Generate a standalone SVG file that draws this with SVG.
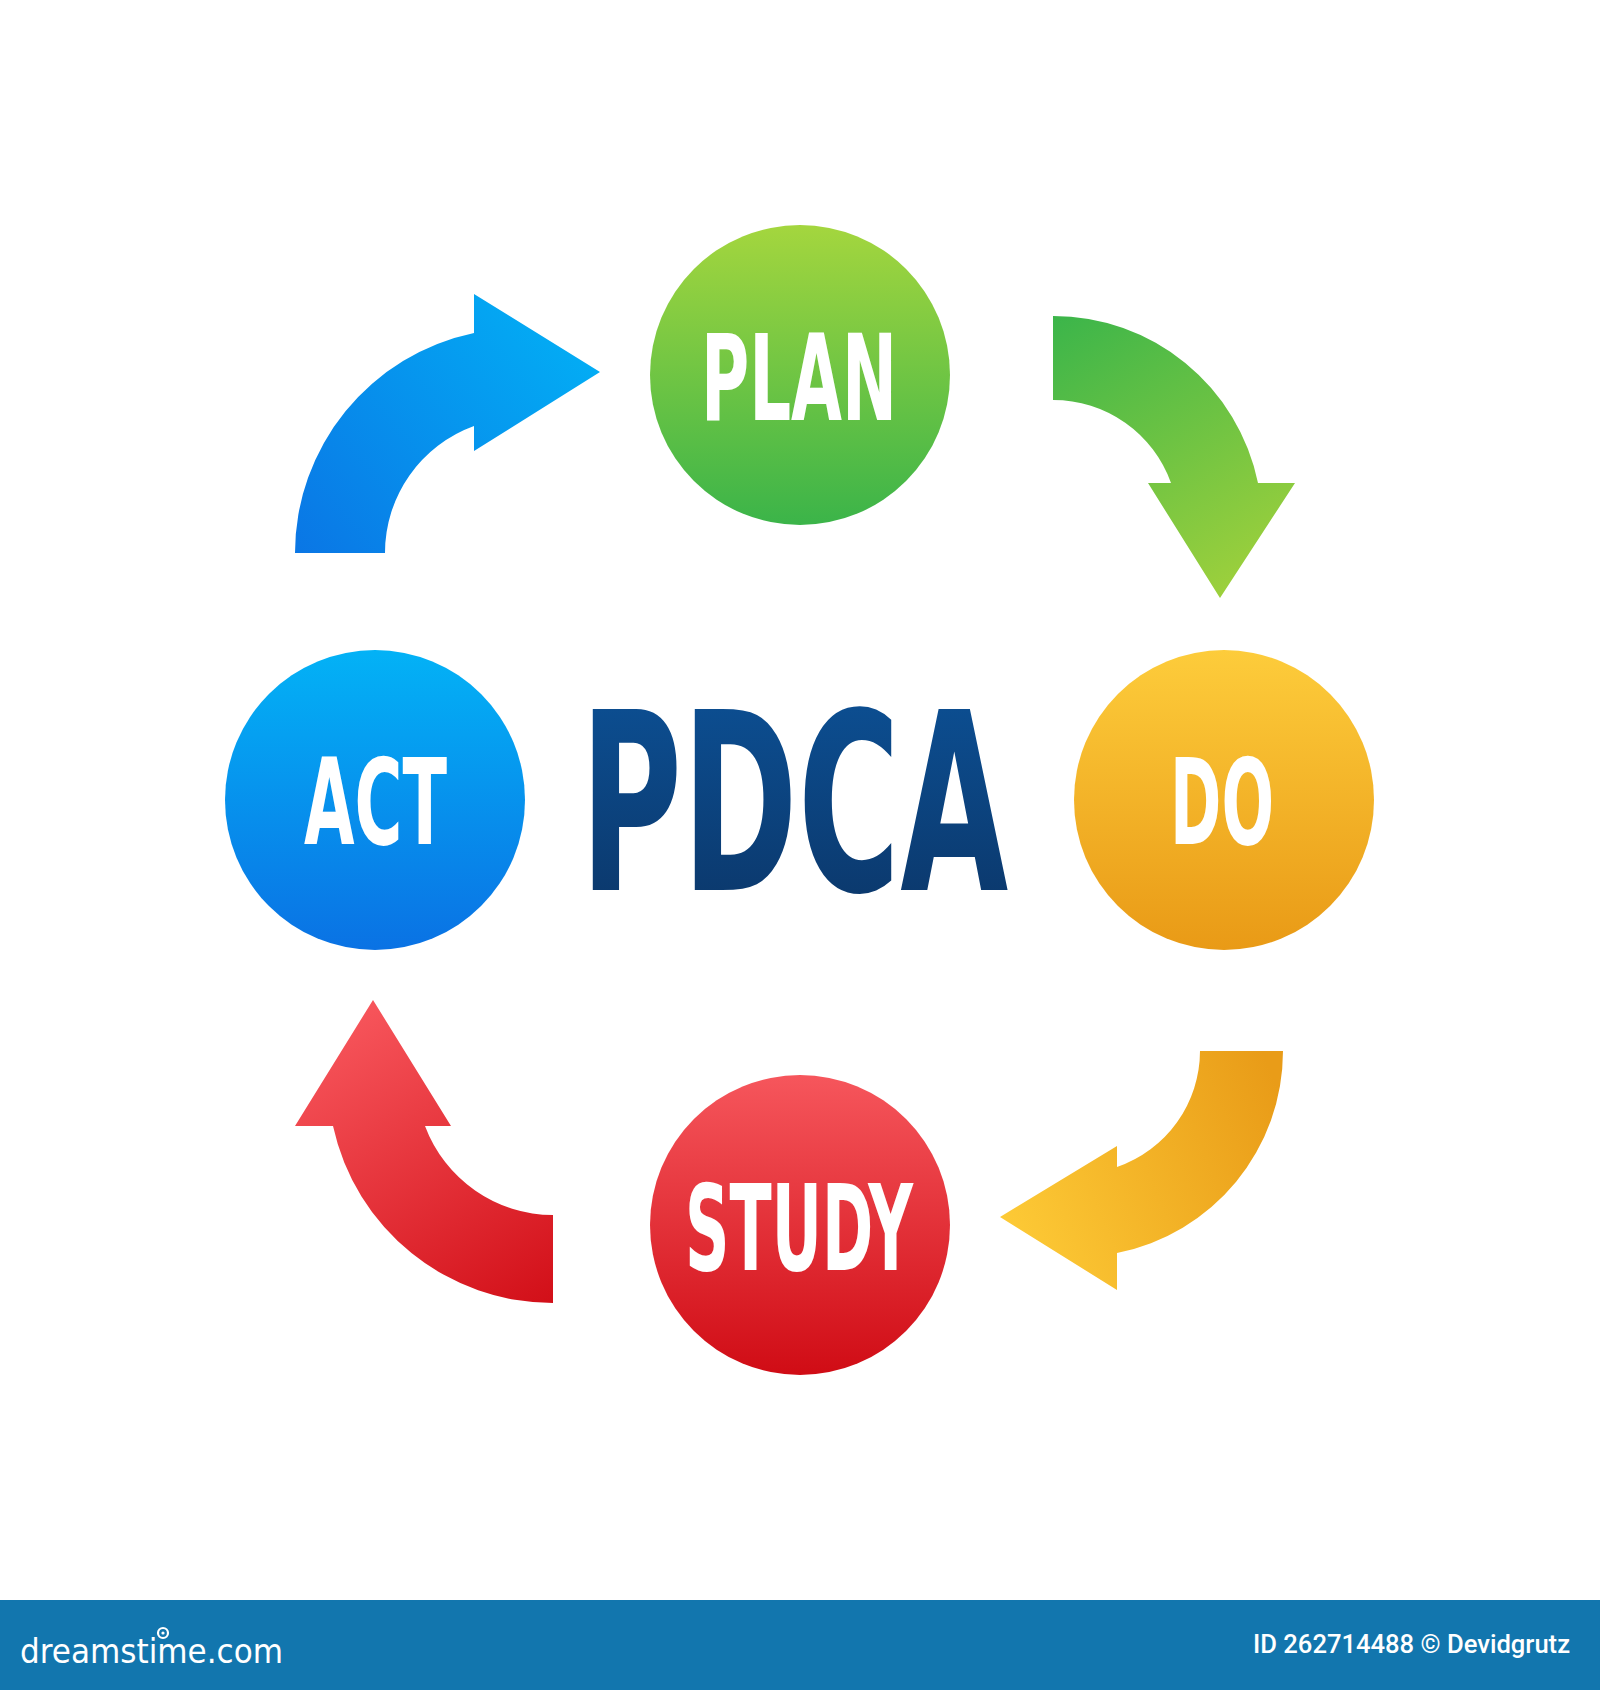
<svg xmlns="http://www.w3.org/2000/svg" width="1600" height="1690" viewBox="0 0 1600 1690">
  <defs>
    <linearGradient id="gBlueArrow" gradientUnits="userSpaceOnUse" x1="295" y1="553" x2="600" y2="300">
      <stop offset="0" stop-color="#0a76e5"/>
      <stop offset="1" stop-color="#02b3f6"/>
    </linearGradient>
    <linearGradient id="gGreenArrow" gradientUnits="userSpaceOnUse" x1="1053" y1="316" x2="1220" y2="598">
      <stop offset="0" stop-color="#3bb54a"/>
      <stop offset="1" stop-color="#9dd03c"/>
    </linearGradient>
    <linearGradient id="gYellowArrow" gradientUnits="userSpaceOnUse" x1="1000" y1="1217" x2="1283" y2="1100">
      <stop offset="0" stop-color="#fdca36"/>
      <stop offset="1" stop-color="#e99c18"/>
    </linearGradient>
    <linearGradient id="gRedArrow" gradientUnits="userSpaceOnUse" x1="373" y1="1000" x2="553" y2="1303">
      <stop offset="0" stop-color="#f7555b"/>
      <stop offset="1" stop-color="#d20f18"/>
    </linearGradient>
    <linearGradient id="gPlan" x1="0" y1="0" x2="0" y2="1">
      <stop offset="0" stop-color="#a4d63e"/>
      <stop offset="1" stop-color="#3bb449"/>
    </linearGradient>
    <linearGradient id="gDo" x1="0" y1="0" x2="0" y2="1">
      <stop offset="0" stop-color="#fdcc3b"/>
      <stop offset="1" stop-color="#e99a16"/>
    </linearGradient>
    <linearGradient id="gStudy" x1="0" y1="0" x2="0" y2="1">
      <stop offset="0" stop-color="#f6565c"/>
      <stop offset="1" stop-color="#d00c15"/>
    </linearGradient>
    <linearGradient id="gAct" x1="0" y1="0" x2="0" y2="1">
      <stop offset="0" stop-color="#03b2f6"/>
      <stop offset="1" stop-color="#0a72e4"/>
    </linearGradient>
    <linearGradient id="gPdca" x1="0" y1="0" x2="0" y2="1">
      <stop offset="0" stop-color="#0c5298"/>
      <stop offset="1" stop-color="#0b3465"/>
    </linearGradient>
  </defs>
  <style>
    .lbl { font-family: "Liberation Sans Narrow", "DejaVu Sans Condensed", "Liberation Sans", sans-serif; font-weight: bold; fill: #ffffff; font-size: 120px; }
    .title { font-family: "Liberation Sans Narrow", "DejaVu Sans Condensed", "Liberation Sans", sans-serif; font-weight: bold; font-size: 248px; fill: url(#gPdca); }
    .foot { fill: #ffffff; }
  </style>
  <rect x="0" y="0" width="1600" height="1690" fill="#ffffff"/>

  <g id="connectors">
    <path id="arrow-act-plan" fill="url(#gBlueArrow)" d="M295,553 A225,225 0 0,1 474,333 L474,294 L600,372 L474,451 L474,426 A135,135 0 0,0 385,553 Z"/>
    <path id="arrow-plan-do" fill="url(#gGreenArrow)" d="M1053,316 A209,209 0 0,1 1258,483 L1295,483 L1220,598 L1148,483 L1171,483 A125,125 0 0,0 1053,400 Z"/>
    <path id="arrow-do-study" fill="url(#gYellowArrow)" d="M1283,1051 A206,206 0 0,1 1117,1253 L1117,1290 L1000,1217 L1117,1146 L1117,1167 A123,123 0 0,0 1200,1051 Z"/>
    <path id="arrow-study-act" fill="url(#gRedArrow)" d="M553,1303 A225,225 0 0,1 333,1126 L295,1126 L373,1000 L451,1126 L425,1126 A137,137 0 0,0 553,1215 Z"/>
  </g>

  <g id="plan">
    <circle cx="800" cy="375" r="150" fill="url(#gPlan)"/>
    <text class="lbl" x="701" y="420" textLength="196" lengthAdjust="spacingAndGlyphs">PLAN</text>
  </g>
  <g id="do">
    <circle cx="1224" cy="800" r="150" fill="url(#gDo)"/>
    <text class="lbl" x="1170" y="844" textLength="104" lengthAdjust="spacingAndGlyphs">DO</text>
  </g>
  <g id="study">
    <circle cx="800" cy="1225" r="150" fill="url(#gStudy)"/>
    <text class="lbl" x="685" y="1270" textLength="228" lengthAdjust="spacingAndGlyphs">STUDY</text>
  </g>
  <g id="act">
    <circle cx="375" cy="800" r="150" fill="url(#gAct)"/>
    <text class="lbl" x="304" y="844" textLength="143" lengthAdjust="spacingAndGlyphs">ACT</text>
  </g>
  <g id="pdca">
    <text class="title" x="580" y="890" textLength="428" lengthAdjust="spacingAndGlyphs">PDCA</text>
  </g>

  <g id="footer">
    <rect x="0" y="1600" width="1600" height="90" fill="#1276ae"/>
    <circle cx="163" cy="1633" r="5" fill="none" stroke="#ffffff" stroke-width="2.2"/>
    <circle cx="163" cy="1633" r="1.6" fill="#ffffff"/>
    <text class="foot" x="20" y="1663" font-family="'DejaVu Sans', 'Liberation Sans', sans-serif" font-size="33" textLength="263" lengthAdjust="spacingAndGlyphs">dreamstime.com</text>
    <text class="foot" x="1253" y="1653" font-family="Roboto, 'Liberation Sans', sans-serif" font-weight="500" font-size="26" textLength="317" lengthAdjust="spacingAndGlyphs">ID 262714488 © Devidgrutz</text>
  </g>
</svg>
